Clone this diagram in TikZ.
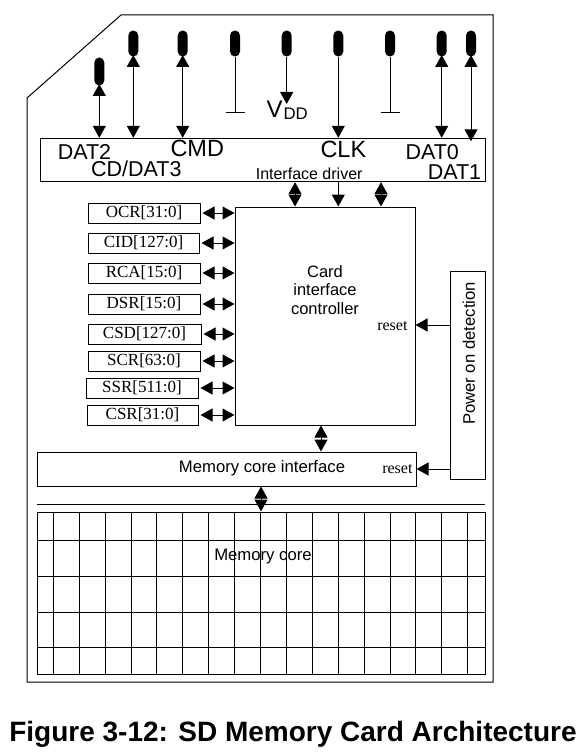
\documentclass[tikz,border=0pt]{standalone}
\usepackage{fontspec}
\setmainfont{Liberation Serif}
\newfontfamily\arial{Liberation Sans}
\usetikzlibrary{arrows.meta}
\begin{document}
\begin{tikzpicture}[x=1pt,y=-1pt, line width=1pt,
  tri/.style={-{Triangle[width=13pt,length=12pt]}},
  bi/.style={{Triangle[width=13pt,length=12pt]}-{Triangle[width=13pt,length=12pt]}},
  box/.style={draw, rectangle, inner sep=0pt},
  pinbar/.style={fill=black, rounded corners=5pt, minimum width=10pt, inner sep=0pt},
  reg/.style={box, minimum height=20pt, font=\fontsize{17}{18}\selectfont},
  lbl/.style={inner sep=0pt, anchor=base west, font=\arial\fontsize{21.5}{22}\selectfont},
  biglbl/.style={inner sep=0pt, anchor=base west, font=\arial\fontsize{23.5}{24}\selectfont},
  txt/.style={inner sep=0pt, anchor=base, font=\arial\fontsize{16.5}{18}\selectfont},
  rst/.style={inner sep=0pt, anchor=base east, font=\fontsize{16}{18}\selectfont}
]
\useasboundingbox (0,0) rectangle (584,754);
% card outline
\draw (121,15) -- (493,15) -- (493,682) -- (27,682) -- (27,98) -- cycle;
% interface driver
\node[box, minimum width=445pt, minimum height=43.4pt] (ifd) at (262.5,160) {};
% pins
\node[pinbar, minimum height=28pt] (p1) at (99.3,71.5) {};
\node[pinbar, minimum height=26pt] (p2) at (133.3,43.5) {};
\node[pinbar, minimum height=26pt] (p3) at (182.7,43.5) {};
\node[pinbar, minimum height=26pt] (p4) at (235,43.5) {};
\node[pinbar, minimum height=26pt] (p5) at (286.7,43.5) {};
\node[pinbar, minimum height=26pt] (p6) at (338.3,43.5) {};
\node[pinbar, minimum height=26pt] (p7) at (390,43.5) {};
\node[pinbar, minimum height=26pt] (p8) at (441.7,43.5) {};
\node[pinbar, minimum height=26pt] (p9) at (471,43.5) {};
\draw[bi] ([yshift=2pt]p1.south) -- (p1.south |- ifd.north);
\draw[bi] ([yshift=2pt]p2.south) -- (p2.south |- ifd.north);
\draw[bi] ([yshift=2pt]p3.south) -- (p3.south |- ifd.north);
\coordinate (g1) at (235,113);
\draw (p4.south) -- (g1);
\draw ([xshift=-9.5pt]g1) -- ([xshift=9.5pt]g1);
\coordinate (vdd) at (286.7,104);
\draw[tri] (p5.south) -- (vdd);
\draw[tri] (p6.south) -- (p6.south |- ifd.north);
\coordinate (g2) at (390,113);
\draw (p7.south) -- (g2);
\draw ([xshift=-9.5pt]g2) -- ([xshift=9.5pt]g2);
\draw[bi] ([yshift=2pt]p8.south) -- (p8.south |- ifd.north);
\draw[bi] ([yshift=2pt]p9.south) -- ([yshift=-3.5pt]p9.south |- ifd.north);
% pin labels
\node[lbl] at (57.3,160) {DAT2};
\node[lbl] at (90.7,176.7) {CD/DAT3};
\node[biglbl] at (170,157) {CMD};
\node[biglbl] at (320,157.3) {CLK};
\node[lbl] at (405,160) {DAT0};
\node[lbl] at (427.3,179) {DAT1};
\node[inner sep=0pt, anchor=base west, font=\arial\fontsize{24}{24}\selectfont] (vl) at (266,117.3) {V};
\node[inner sep=0pt, anchor=base west, font=\arial\fontsize{16.8}{18}\selectfont] at ([yshift=-2.7pt]vl.base east) {DD};
\node[inner sep=0pt, anchor=base west, font=\arial\fontsize{16}{18}\selectfont] at (255.3,179) {Interface driver};
% card interface controller
\node[box, minimum width=180pt, minimum height=218pt] (cic) at (325,316) {};
\node[txt] at (325,277) {Card};
\node[txt] at (325,295.5) {interface};
\node[txt] at (325,314) {controller};
\node[rst] at (408,330) {reset};
\foreach \cx [count=\i] in {295,338.3,381} {
  \coordinate (c\i) at (\cx,0);
}
\draw[bi] (ifd.south -| c1) -- (cic.north -| c1);
\draw[tri] (ifd.south -| c2) -- (cic.north -| c2);
\draw[bi] (ifd.south -| c3) -- (cic.north -| c3);
% registers
\node[reg, minimum width=112pt] (r1) at (144,213) {OCR[31:0]};
\node[reg, minimum width=111pt] (r2) at (143.5,243) {CID[127:0]};
\node[reg, minimum width=112pt] (r3) at (144,273) {RCA[15:0]};
\node[reg, minimum width=112pt] (r4) at (144,304) {DSR[15:0]};
\node[reg, minimum width=113pt] (r5) at (144.5,334) {CSD[127:0]};
\node[reg, minimum width=112pt] (r6) at (144,361) {SCR[63:0]};
\node[reg, minimum width=112pt] (r7) at (142,388) {SSR[511:0]};
\node[reg, minimum width=111pt] (r8) at (142.5,415) {CSR[31:0]};
\foreach \r in {r1,r2,r3,r4,r5,r6,r7,r8} {
  \draw[bi, shorten <=2pt] (\r.east) -- (\r.east -| cic.west);
}
% power on detection
\node[box, minimum width=35pt, minimum height=208pt] (pod) at (467.5,375) {};
\node[rotate=90, inner sep=0pt, font=\arial\fontsize{16.7}{18}\selectfont] at (469,353.5) {Power on detection};
\coordinate (rs1) at (0,325);
\draw[tri] (pod.west |- rs1) -- (cic.east |- rs1);
% memory core interface
\node[box, minimum width=379pt, minimum height=34pt] (mci) at (226.5,469) {};
\node[txt, font=\arial\fontsize{16.7}{18}\selectfont] at (262,472.3) {Memory core interface};
\node[rst] at (413,473) {reset};
\coordinate (rs2) at (0,469);
\draw[tri] (pod.west |- rs2) -- (mci.east |- rs2);
\coordinate (c4) at (321,0);
\draw[bi] (cic.south -| c4) -- (mci.north -| c4);
% memory core
\draw (37,504) -- (485,504);
\node[box, minimum width=448pt, minimum height=162pt] (core) at (261,593) {};
\node[txt, font=\arial\fontsize{16.7}{18}\selectfont] at (263,560.7) {Memory core};
\foreach \yy in {540,576,612,647} \draw (core.west |- 0,\yy) -- (core.east |- 0,\yy);
\foreach \k in {0,...,16} \draw ({53.3+25.9*\k},512) -- ({53.3+25.9*\k},674);
\coordinate (c5) at (261,0);
\draw[bi] (mci.south -| c5) -- (core.north -| c5);
% caption
\node[inner sep=0pt, anchor=base, font=\arial\bfseries\fontsize{28}{30}\selectfont] at (293,741) {Figure 3-12: SD Memory Card Architecture};
\end{tikzpicture}
\end{document}
